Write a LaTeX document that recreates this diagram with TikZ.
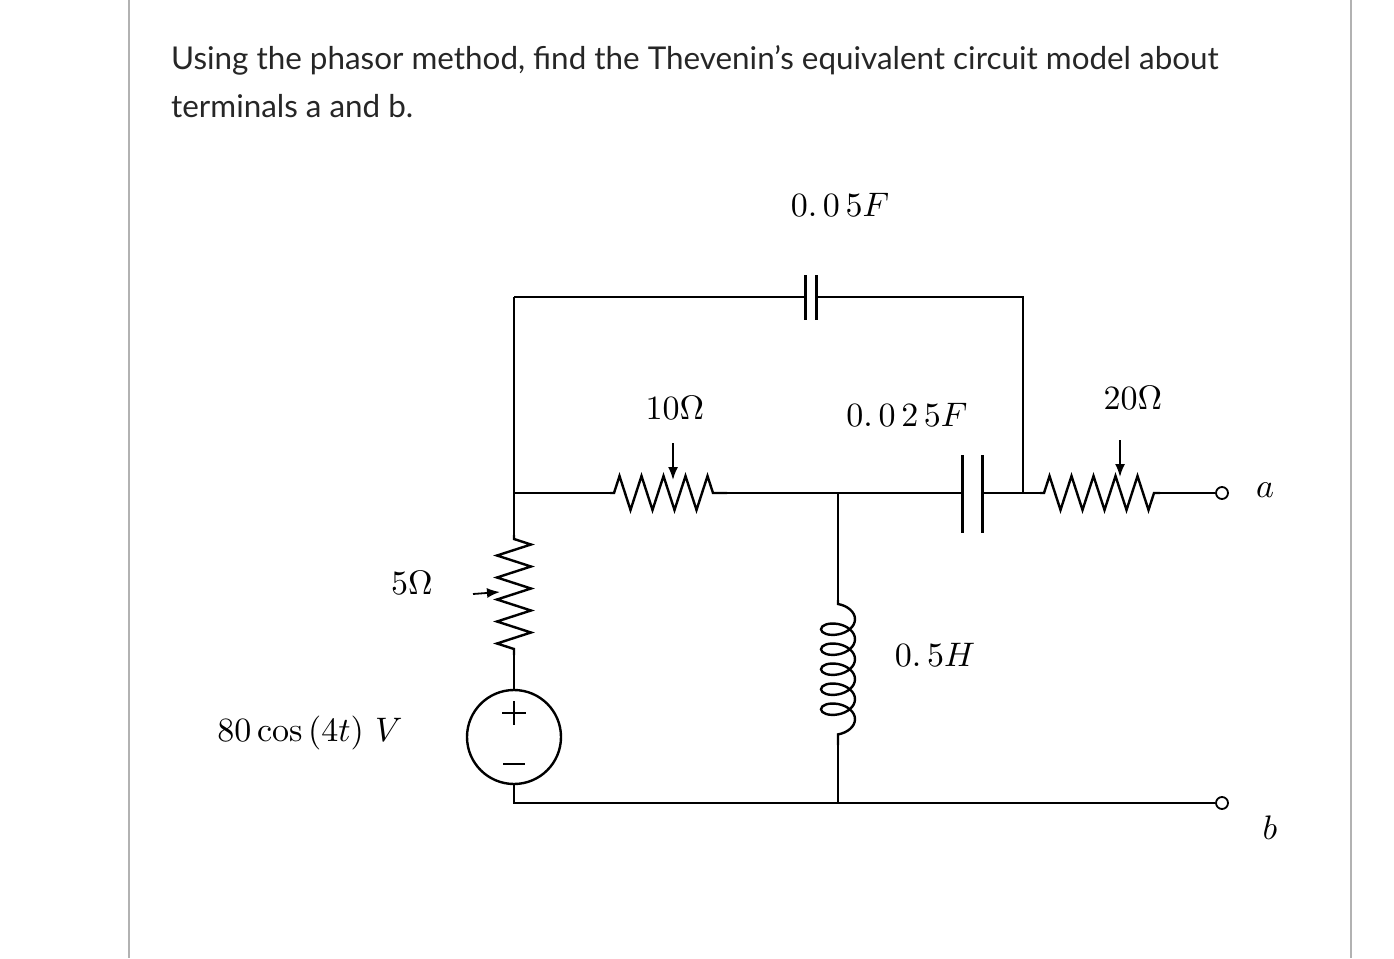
\documentclass[tikz,border=0pt]{standalone}
\usepackage{fontspec}
\newfontfamily\lato{Lato}
\usetikzlibrary{decorations.pathmorphing,arrows.meta}
\begin{document}
\begin{tikzpicture}[x=1pt,y=-1pt,line width=2.4pt,
  wire/.style={line width=2.4pt},
  res/.style={decorate,decoration={zigzag,amplitude=17,segment length=22,pre length=4,post length=4}},
  ind/.style={decorate,decoration={coil,amplitude=17,segment length=20,aspect=0.6,pre length=4,post length=4}},
  lbl/.style={scale=3.4},
  arr/.style={-{Latex[length=13,width=10]},line width=1.8pt}]
\useasboundingbox (0,0) rectangle (1394,958);
\draw[gray!60,line width=1.2pt] (129,0)--(129,958) (1351,0)--(1351,958);
\node[anchor=base west,inner sep=0,font=\lato\fontsize{31.4}{38}\selectfont,color=black!85] (t1) at (170,70) {Using the phasor method, find the Thevenin’s equivalent circuit model about};
\node[anchor=base west,inner sep=0,font=\lato\fontsize{31.4}{38}\selectfont,color=black!85] (t2) at (170,117) {terminals a and b.};
% coordinates
\coordinate (tl) at (514,297); \coordinate (tr) at (1023,297);
\coordinate (ml) at (514,493); \coordinate (mm) at (838,493); \coordinate (mr) at (1023,493);
\coordinate (bl) at (514,803); \coordinate (bm) at (838,803);
% top branch with 0.05F
\coordinate (c1a) at (805,297); \coordinate (c1b) at (816,297);
\draw[wire] (tl)--(c1a) (c1b)--(tr)--(mr);
\draw[line width=3pt] (805,275)--(805,320) (816,275)--(816,320);
\node[lbl] (l005) at (840,205) {$0.\,0\,5F$};
% middle
\coordinate (r1a) at (610,493); \coordinate (r1b) at (727,493);
\draw[wire] (tl)--(ml)--(r1a);
\draw[wire,res] (r1a)--(r1b);
\coordinate (c2a) at (962,493); \coordinate (c2b) at (982,493);
\draw[wire] (r1b)--(mm)--(c2a) (c2b)--(mr);
\draw[line width=3pt] (962,455)--(962,533) (982,455)--(982,533);
\node[lbl] (l10) at (675,408) {$10\Omega$};
\draw[arr] (673,443)--(673,480);
\node[lbl] (l0025) at (907,415) {$0.\,0\,2\,5F$};
% 20 ohm
\coordinate (r2a) at (1040,493); \coordinate (r2b) at (1160,493);
\draw[wire,res] (r2a)--(r2b);
\draw[wire] (mr)--(r2a) (r2b)--(1215,493);
\node[draw,circle,line width=1.8pt,minimum size=12,inner sep=0,fill=white] (ta) at (1222,493) {};
\node[lbl] (la) at (1265,490) {$a$};
\node[lbl] (l20) at (1133,398) {$20\Omega$};
\draw[arr] (1120,440)--(1120,477);
% left branch 5 ohm & source
\coordinate (r3a) at (514,535); \coordinate (r3b) at (514,655);
\draw[wire] (ml)--(r3a);
\draw[wire,res] (r3a)--(r3b);
\node[draw,circle,line width=2.4pt,minimum size=94,inner sep=0] (src) at (514,737) {};
\draw[wire] (r3b)--(src.north) (src.south)--(bl)--(bm)--(1215,803);
\draw[line width=2pt] (502,713)--(526,713) (514,701)--(514,725) (503,764)--(525,764);
\node[lbl] (l5) at (412,583) {$5\Omega$};
\draw[arr] (473,594)--(500,592);
\node[lbl] (lv) at (310,733) {$80\cos{(4t)}\ V$};
\node[draw,circle,line width=1.8pt,minimum size=12,inner sep=0,fill=white] (tb) at (1222,803) {};
\node[lbl] (lb) at (1270,828) {$b$};
% inductor
\coordinate (la1) at (838,600); \coordinate (la2) at (838,745);
\draw[wire] (mm)--(la1) (la2)--(bm);
\draw[wire,ind] (la1)--(la2);
\node[lbl] (lh) at (935,655) {$0.\,5H$};
\end{tikzpicture}
\end{document}
